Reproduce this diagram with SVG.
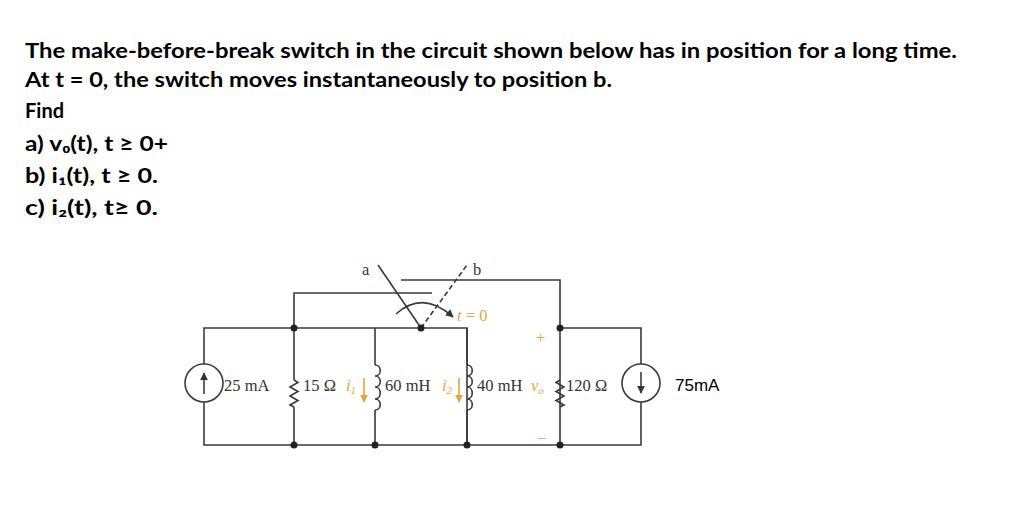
<svg xmlns="http://www.w3.org/2000/svg" width="1024" height="516" viewBox="0 0 1024 516">
<style>
.h{font-family:Lato,"Open Sans",sans-serif;font-weight:bold;font-size:20px;fill:#000}
.w{stroke:#3a3a3a;stroke-width:1.6;fill:none}
.t{font-family:"Liberation Serif",serif;font-size:16.5px;fill:#333}
.o{font-family:"Liberation Serif",serif;font-style:italic;font-size:16.5px;fill:#e8a33a}
.d{fill:#222}
</style>
<defs>
<marker id="ah" viewBox="0 0 10 10" refX="9" refY="5" markerWidth="5" markerHeight="5" orient="auto"><path d="M0,0L10,5L0,10z" fill="#333"/></marker>
<marker id="ao" viewBox="0 0 10 10" refX="9" refY="5" markerWidth="5" markerHeight="5" orient="auto"><path d="M0,0L10,5L0,10z" fill="#e8a33a"/></marker>
</defs>
<rect width="1024" height="516" fill="#fff"/>
<g id="text">
<text class="h" x="25" y="58" textLength="932" lengthAdjust="spacingAndGlyphs">The make-before-break switch in the circuit shown below has in position for a long time.</text>
<text class="h" x="25" y="87" textLength="587" lengthAdjust="spacingAndGlyphs">At t = 0, the switch moves instantaneously to position b.</text>
<text class="h" x="25" y="118">Find</text>
<text class="h" x="25" y="151" textLength="143" lengthAdjust="spacingAndGlyphs">a) v₀(t), t ≥ 0+</text>
<text class="h" x="25" y="183" textLength="133" lengthAdjust="spacingAndGlyphs">b) i₁(t), t ≥ 0.</text>
<text class="h" x="25" y="215" textLength="133" lengthAdjust="spacingAndGlyphs">c) i₂(t), t≥ 0.</text>
</g>
<g id="connectors">
<path class="w" d="M204,364V328H375M294,328V293H432M401,280H560V445M375,328H467V445M204,402V445H641V402M641,364V328H560M375,328V365M375,410V445M294,328V380M294,407V445M560,328V380M560,407V445"/>
<path class="w" d="M467,328V365M467,410V445"/>
</g>
<g id="src25"><circle class="w" cx="204" cy="383" r="19"/><path class="w" d="M204,394V373" marker-end="url(#ah)"/><text class="t" x="224" y="391">25 mA</text></g>
<g id="r15"><path class="w" d="M294,380l4,2.5l-8,4.5l8,4.5l-8,4.5l8,4.5l-8,4.5l4,2"/><text class="t" x="303" y="391">15 Ω</text></g>
<g id="l60"><path class="w" d="M375,365c7,0 7,11 0,11c7,0 7,11 0,11c7,0 7,12 0,12c7,0 7,11 0,11"/><text class="t" x="385" y="391">60 mH</text></g>
<g id="l40"><path class="w" d="M467,365c7,0 7,11 0,11c7,0 7,11 0,11c7,0 7,12 0,12c7,0 7,11 0,11"/><text class="t" x="477" y="391">40 mH</text></g>
<g id="r120"><path class="w" d="M560,380l-4,2.5l8,4.5l-8,4.5l8,4.5l-8,4.5l8,4.5l-4,2"/><text class="t" x="566" y="391">120 Ω</text></g>
<g id="src75"><circle class="w" cx="641" cy="383" r="19"/><path class="w" d="M641,372V393" marker-end="url(#ah)"/><text x="675" y="391" style="font-family:'Liberation Sans',sans-serif;font-size:17px">75mA</text></g>
<g id="labels">
<text class="o" x="346" y="391">i<tspan font-size="11" dy="3">1</tspan></text>
<path d="M364,378V402" stroke="#e8a33a" stroke-width="1.6" marker-end="url(#ao)"/>
<text class="o" x="442" y="391">i<tspan font-size="11" dy="3">2</tspan></text>
<path d="M459,378V402" stroke="#e8a33a" stroke-width="1.6" marker-end="url(#ao)"/>
<text class="o" x="531" y="391">v<tspan font-size="11" dy="3">o</tspan></text>
<text class="o" x="536" y="343" style="font-style:normal">+</text>
<text class="o" x="537" y="444" style="font-style:normal">−</text>
</g>
<g id="switch">
<path class="w" d="M421,328L378,265"/>
<path class="w" d="M421,328L467,265" stroke-dasharray="5,3"/>
<path class="w" d="M396,314Q423,290 453,317" marker-end="url(#ah)"/>
<text class="t" x="362" y="275">a</text>
<text class="t" x="473" y="275">b</text>
<text class="o" x="457" y="321">t <tspan style="font-style:normal">= 0</tspan></text>
</g>
<g id="dots" class="d">
<circle cx="294" cy="328" r="3.5"/><circle cx="421" cy="328" r="3.5"/><circle cx="560" cy="328" r="3.5"/>
<circle cx="294" cy="445" r="3.5"/><circle cx="375" cy="445" r="3.5"/><circle cx="467" cy="445" r="3.5"/><circle cx="560" cy="445" r="3.5"/>
</g>
</svg>
